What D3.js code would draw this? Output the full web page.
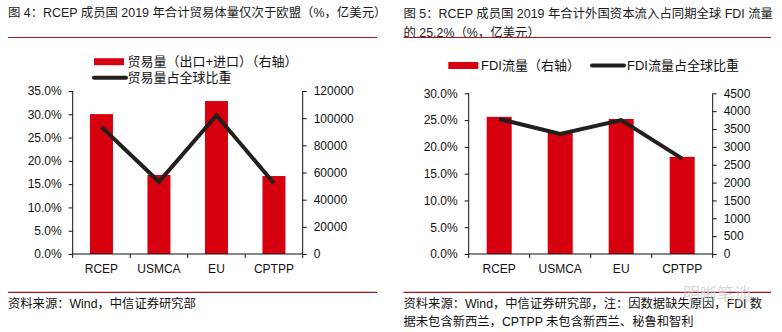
<!DOCTYPE html>
<html>
<head>
<meta charset="utf-8">
<script src="https://cdn.jsdelivr.net/npm/d3@7"></script>
<style>
  body { margin: 0; background: #fff; }
  svg { display: block; font-family: "Liberation Sans", Arial, "Noto Sans CJK SC", sans-serif; }
  .axis text { font-size: 12px; fill: #111; }
  .axis path, .axis line { stroke: #111; }
</style>
</head>
<body>
<svg id="chart" width="782" height="332"></svg>
<script>
// categories shared by both panels
var categories = ["RCEP", "USMCA", "EU", "CPTPP"];

// left panel: trade volume (right axis, 亿美元) and share of world trade
var tradeVolume = [103000, 58200, 112600, 57400];
var tradeShare = [0.273, 0.155, 0.298, 0.152];
var tradeShareTicks = [0, 0.05, 0.10, 0.15, 0.20, 0.25, 0.30, 0.35];
var tradeVolumeTicks = [0, 20000, 40000, 60000, 80000, 100000, 120000];

// right panel: FDI inflow (right axis) and share of world FDI
var fdiVolume = [3840, 3400, 3780, 2720];
var fdiShare = [0.252, 0.224, 0.250, 0.178];
var fdiShareTicks = [0, 0.05, 0.10, 0.15, 0.20, 0.25, 0.30];
var fdiVolumeTicks = [0, 500, 1000, 1500, 2000, 2500, 3000, 3500, 4000, 4500];

var barColor = "#d7000f";
var lineColor = "#231f1c";
var ruleColor = "#a3171b";

var svg = d3.select("#chart");

function drawPanel(opt) {
    var g = svg.append("g");

    // title + red rule
    opt.title.forEach(function(t, i) {
        g.append("text")
            .attr("x", opt.textX)
            .attr("y", opt.titleY + i * 18.5)
            .attr("font-size", 12.4)
            .attr("fill", "#1a1a1a")
            .text(t);
    });
    g.append("line")
        .attr("x1", opt.textX).attr("x2", opt.ruleX2)
        .attr("y1", 37.5).attr("y2", 37.5)
        .attr("stroke", ruleColor).attr("stroke-width", 1.2);

    var x = d3.scaleBand().domain(categories).range([opt.left, opt.right]);
    var yL = d3.scaleLinear().domain([0, d3.max(opt.shareTicks)]).range([254, opt.top]);
    var yR = d3.scaleLinear().domain([0, d3.max(opt.volTicks)]).range([254, opt.top]);

    var barW = x.bandwidth() * opt.barFrac;

    // bars
    g.selectAll(".bar")
        .data(opt.vol)
        .join("rect")
        .attr("class", "bar")
        .attr("x", function(d, i) { return x(categories[i]) + (x.bandwidth() - barW) / 2; })
        .attr("width", barW)
        .attr("y", function(d) { return yR(d); })
        .attr("height", function(d) { return yR(0) - yR(d); })
        .attr("fill", barColor);

    // share line
    var line = d3.line()
        .x(function(d, i) { return x(categories[i]) + x.bandwidth() / 2; })
        .y(function(d) { return yL(d); });
    g.append("path")
        .datum(opt.share)
        .attr("d", line)
        .attr("fill", "none")
        .attr("stroke", lineColor)
        .attr("stroke-width", 4);

    // axes
    g.append("g").attr("class", "axis")
        .attr("transform", "translate(" + opt.left + ",0)")
        .call(d3.axisLeft(yL).tickValues(opt.shareTicks).tickFormat(d3.format(".1%")).tickSize(4).tickSizeOuter(0).tickPadding(7))
        .call(function(a) { a.select(".domain").attr("d", "M0," + yL(0) + "V" + opt.top); });

    g.append("g").attr("class", "axis")
        .attr("transform", "translate(" + opt.right + ",0)")
        .call(d3.axisRight(yR).tickValues(opt.volTicks).tickFormat(d3.format("d")).tickSize(4).tickSizeOuter(0).tickPadding(7))
        .call(function(a) { a.select(".domain").attr("d", "M0," + yR(0) + "V" + opt.top); });

    var xa = g.append("g").attr("class", "axis")
        .attr("transform", "translate(0,254)")
        .call(d3.axisBottom(x).tickSize(0).tickPadding(10));
    xa.select(".domain").attr("d", "M" + opt.left + ",0H" + opt.right);
    // boundary ticks between categories
    var bounds = categories.map(function(c) { return x(c); }).concat([opt.right]);
    xa.selectAll(".bound")
        .data(bounds)
        .join("line")
        .attr("class", "bound")
        .attr("x1", function(d) { return d; }).attr("x2", function(d) { return d; })
        .attr("y1", 0).attr("y2", 4);

    // legend
    opt.legend.forEach(function(l) {
        if (l.type === "bar") {
            g.append("rect")
                .attr("x", l.x).attr("y", l.y - 3.5)
                .attr("width", 30).attr("height", 7)
                .attr("fill", barColor);
        } else {
            g.append("line")
                .attr("x1", l.x).attr("x2", l.x + 32)
                .attr("y1", l.y).attr("y2", l.y)
                .attr("stroke", lineColor).attr("stroke-width", 4)
                .attr("stroke-linecap", "round");
        }
        g.append("text")
            .attr("x", l.tx).attr("y", l.y)
            .attr("dy", "0.36em")
            .attr("font-size", 13)
            .attr("fill", "#111")
            .text(l.label);
    });

    // footer
    g.append("line")
        .attr("x1", opt.textX).attr("x2", opt.ruleX2)
        .attr("y1", 292.3).attr("y2", 292.3)
        .attr("stroke", ruleColor).attr("stroke-width", 1.2);
    opt.source.forEach(function(t, i) {
        g.append("text")
            .attr("x", opt.textX)
            .attr("y", 308 + i * 17.5)
            .attr("font-size", 12.3)
            .attr("fill", "#111")
            .text(t);
    });
}

drawPanel({
    title: ["图 4：RCEP 成员国 2019 年合计贸易体量仅次于欧盟（%，亿美元）"],
    titleY: 17,
    textX: 8,
    ruleX2: 377,
    left: 72.7, right: 302.7, top: 91,
    barFrac: 0.4,
    vol: tradeVolume, share: tradeShare,
    shareTicks: tradeShareTicks, volTicks: tradeVolumeTicks,
    legend: [
        { type: "bar", x: 94, y: 61.7, tx: 127.5, label: "贸易量（出口+进口）（右轴）" },
        { type: "line", x: 94, y: 77.7, tx: 127.5, label: "贸易量占全球比重" }
    ],
    source: ["资料来源：Wind，中信证券研究部"]
});

drawPanel({
    title: ["图 5：RCEP 成员国 2019 年合计外国资本流入占同期全球 FDI 流量", "的 25.2%（%，亿美元）"],
    titleY: 18,
    textX: 403.5,
    ruleX2: 771,
    left: 468.7, right: 712.7, top: 93.3,
    barFrac: 0.41,
    vol: fdiVolume, share: fdiShare,
    shareTicks: fdiShareTicks, volTicks: fdiVolumeTicks,
    legend: [
        { type: "bar", x: 448.3, y: 65.5, tx: 481, label: "FDI流量（右轴）" },
        { type: "line", x: 592, y: 65.5, tx: 627, label: "FDI流量占全球比重" }
    ],
    source: ["资料来源：Wind，中信证券研究部，注：因数据缺失原因，FDI 数",
             "据未包含新西兰，CPTPP 未包含新西兰、秘鲁和智利"]
});

// faint account watermark over the right footer
svg.append("text")
    .attr("x", 683).attr("y", 300)
    .attr("font-size", 17)
    .attr("fill", "#c8c8c8")
    .attr("opacity", 0.7)
    .text("明晰笔谈");
</script>
</body>
</html>
